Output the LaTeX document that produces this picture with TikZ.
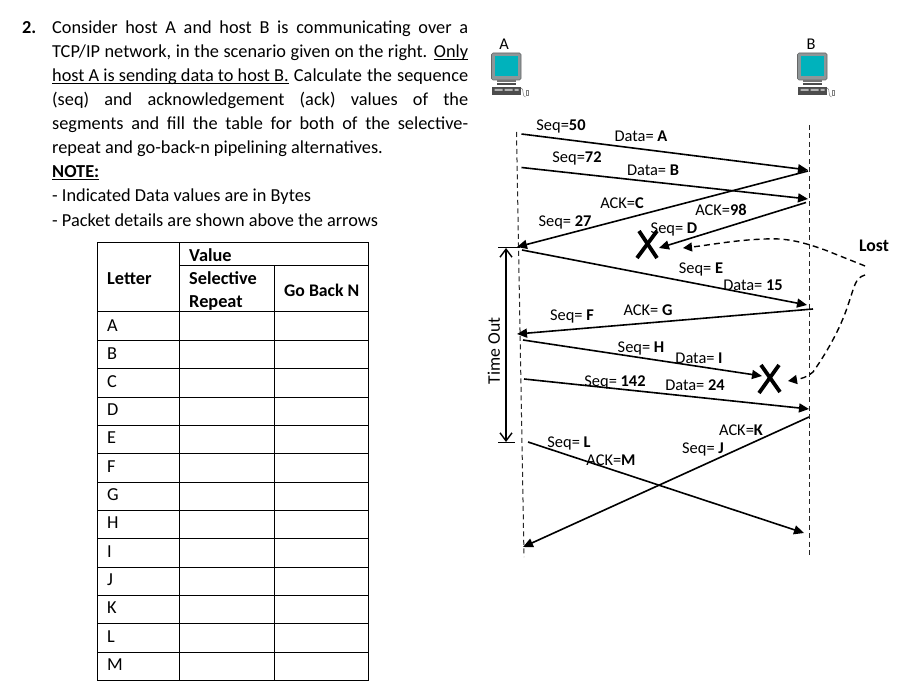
\documentclass[tikz,border=0pt]{standalone}
\usepackage{fontspec}
\setmainfont{Carlito}
\usetikzlibrary{arrows.meta}
\newcommand{\ulnk}[1]{\sbox0{#1}\rlap{\rule[-2.2pt]{\wd0}{1.1pt}}\usebox0}
\newcommand{\bodyfs}{\fontsize{18.3}{22}\selectfont}
\newcommand{\labfs}{\fontsize{16.4}{20}\selectfont}
\newcommand{\bigfs}{\fontsize{17.7}{21}\selectfont}
\definecolor{screen}{HTML}{00B2BC}
\definecolor{bezel}{HTML}{8E9698}
\tikzset{
  x=1pt,y=-1pt,
  body/.style={anchor=base west,inner sep=0pt,font=\bodyfs},
  tab/.style={anchor=base west,inner sep=0pt,font=\bodyfs},
  tabline/.style={draw=black,line width=1pt},
  lab/.style={inner sep=0pt,font=\labfs,text height=14pt,text depth=2.5pt},
  life/.style={draw=black!85,line width=1pt,dash pattern=on 5pt off 3.5pt},
  msg/.style={draw=black,line width=1.6pt,-{Triangle[length=10pt,width=9pt]}},
  lostline/.style={draw=black,line width=1.4pt,dash pattern=on 6pt off 4pt},
  lostarrow/.style={lostline,-{Triangle[length=9pt,width=9pt]}},
  cross/.style={draw=black,line width=3.8pt},
  timeline/.style={draw=black,line width=1.4pt,{Straight Barb[length=8pt,width=12pt]}-{Straight Barb[length=8pt,width=12pt]}},
  thin rule/.style={draw=black,line width=0.8pt},
  hostpc/.pic={
    \fill[bezel,rounded corners=1.5pt] (0,0) rectangle (29.5,27);
    \fill[screen] (3,3) rectangle (26.5,23);
    \draw[black!60,line width=.6pt,rounded corners=1.5pt] (0,0) rectangle (29.5,27);
    \fill[black!55] (5,27) rectangle (24.5,29);
    \fill[black!70] (5,30.5) rectangle (24.5,32);
    \fill[black!70] (0.5,34) rectangle (29.5,42);
    \fill[black!30] (3,36) rectangle (11,38) (13,36) rectangle (21,38) (23,36) rectangle (27,38);
    \draw[black!50,line width=.5pt] (29.5,35) .. controls (33,35) and (30,44) .. (34,44);
    \draw[black!50,line width=.5pt] (35,37) rectangle (37,42);
  }
}
\begin{document}
\begin{tikzpicture}
\useasboundingbox[fill=white] (0,0) rectangle (901,700);

% question text
\node[body,font=\bodyfs\bfseries] (num) at (22,34) {2.};
\node[body] (l1) at (52,34) {\makebox[416pt][s]{Consider host A and host B is communicating over a}};
\node[body] (l2) at (52,58) {\makebox[416pt][s]{TCP/IP network, in the scenario given on the right. \ulnk{Only}}};
\node[body] (l3) at (52,82) {\makebox[416pt][s]{\ulnk{host A is sending data to host B.} Calculate the sequence}};
\node[body] (l4) at (52,106) {\makebox[416pt][s]{(seq) and acknowledgement (ack) values of the}};
\node[body] (l5) at (52,130) {\makebox[416pt][s]{segments and fill the table for both of the selective-}};
\node[body] (l6) at (52,154) {repeat and go-back-n pipelining alternatives.};
\node[body] (l7) at (52,178) {\textbf{\ulnk{NOTE:}}};
\node[body] (l8) at (52,202) {- Indicated Data values are in Bytes};
\node[body] (l9) at (52,227) {- Packet details are shown above the arrows};

% table
\draw[tabline] (97.5,242.5) rectangle (368,680.5);
\draw[tabline] (179,242.5) -- (179,680.5);
\draw[tabline] (274,266) -- (274,680.5);
\draw[tabline] (179,266) -- (368,266);
\foreach \yy in {311.5,340,368,397,425,453,482,510,538,567,595,623,652}
  \draw[tabline] (97.5,\yy) -- (368,\yy);
\node[tab,font=\bodyfs\bfseries] (hLetter) at (107,284) {Letter};
\node[tab,font=\bodyfs\bfseries] (hValue) at (189,262) {Value};
\node[tab,font=\bodyfs\bfseries] (hSel) at (189,284) {Selective};
\node[tab,font=\bodyfs\bfseries] (hRep) at (189,307) {Repeat};
\node[tab,font=\bigfs\bfseries] (hGo) at (284,296) {Go Back N};
\foreach \rowname/\yy in {A/331,B/359,C/387,D/415,E/443,F/472,G/500,H/528,I/557,J/585,K/613,L/642,M/670}
  \node[tab] (row\rowname) at (107,\yy) {\rowname};

% hosts
\pic at (491.5,53) {hostpc};
\pic at (797.5,53) {hostpc};
\node[lab] (hostA) at (504,44) {A};
\node[lab] (hostB) at (811,44) {B};

% lifelines
\coordinate (Atop) at (516.5,132);
\coordinate (Abot) at (524,557);
\coordinate (Btop) at (809,125);
\coordinate (Bbot) at (809,557);
\draw[life] (Atop) -- (Abot);
\draw[life] (Btop) -- (Bbot);

% messages
\coordinate (m1s) at (521.5,134);   \coordinate (m1e) at (808,170);
\coordinate (m2s) at (521.5,167.5); \coordinate (m2e) at (808,199);
\coordinate (m3s) at (808,171);     \coordinate (m3e) at (517,247);
\coordinate (m4s) at (806,202.5);   \coordinate (m4e) at (659,248);
\coordinate (m5s) at (522,250);     \coordinate (m5e) at (807,305);
\coordinate (m6s) at (813,309);     \coordinate (m6e) at (517,334);
\coordinate (m7s) at (523,340);     \coordinate (m7e) at (762,376);
\coordinate (m8s) at (524,379);     \coordinate (m8e) at (809,409);
\coordinate (m9s) at (809,417);     \coordinate (m9e) at (523,547);
\coordinate (m10s) at (528,442);    \coordinate (m10e) at (804,533);
\foreach \i in {1,...,10} \draw[msg] (m\i s) -- (m\i e);

% lost crosses
\coordinate (x1a) at (637,258); \coordinate (x1b) at (657,231);
\coordinate (x1c) at (639,231); \coordinate (x1d) at (657,258);
\draw[cross] (x1a) -- (x1b);
\draw[cross] (x1c) -- (x1d);
\coordinate (x2a) at (759,393); \coordinate (x2b) at (779,365);
\coordinate (x2c) at (761,365); \coordinate (x2d) at (780,392);
\draw[cross] (x2a) -- (x2b);
\draw[cross] (x2c) -- (x2d);

% lost pointers
\node[lab,font=\bigfs\bfseries] (lost) at (874,246) {Lost};
\coordinate (c1s) at (865,266); \coordinate (c1e) at (683,248);
\coordinate (c2s) at (865,275); \coordinate (c2e) at (788,381);
\draw[lostarrow] (c1s) -- (825,250) .. controls (800,241) and (785,238) .. (765,239) .. controls (735,240) and (710,245) .. (c1e);
\draw[lostarrow] (c2s) .. controls (855,278) and (855,285) .. (848,305) .. controls (840,330) and (825,355) .. (813,372) .. controls (808,377) and (800,379) .. (c2e);

% time out
\coordinate (t1) at (506,248); \coordinate (t2) at (506,442);
\draw[timeline] (t1) -- (t2);
\coordinate (r1a) at (498,247); \coordinate (r1b) at (520,247);
\coordinate (r2a) at (498,442.5); \coordinate (r2b) at (515,442.5);
\draw[thin rule] (r1a) -- (r1b);
\draw[thin rule] (r2a) -- (r2b);
\node[lab,font=\bigfs,rotate=90] (timeout) at (494,351) {Time Out};

% labels
\node[lab] (n1) at (561,125) {Seq=\textbf{50}};
\node[lab] (n2) at (641,136) {Data= \textbf{A}};
\node[lab] (n3) at (577,157) {Seq=\textbf{72}};
\node[lab] (n4) at (653,170) {Data= \textbf{B}};
\node[lab] (n5) at (622,203) {ACK=\textbf{C}};
\node[lab] (n6) at (721,210) {ACK=\textbf{98}};
\node[lab] (n7) at (565,221) {Seq= \textbf{27}};
\node[lab] (n8) at (674,228) {Seq= \textbf{D}};
\node[lab] (n9) at (701,268) {Seq= \textbf{E}};
\node[lab] (n10) at (753,285) {Data= \textbf{15}};
\node[lab] (n11) at (572,315) {Seq= \textbf{F}};
\node[lab] (n12) at (648,310) {ACK= \textbf{G}};
\node[lab] (n13) at (641,347) {Seq= \textbf{H}};
\node[lab] (n14) at (699,358) {Data= \textbf{I}};
\node[lab] (n15) at (615,381) {Seq= \textbf{142}};
\node[lab] (n16) at (695,385) {Data= \textbf{24}};
\node[lab] (n17) at (741,430) {ACK=\textbf{K}};
\node[lab] (n18) at (703,448) {Seq= \textbf{J}};
\node[lab] (n19) at (569,442) {Seq= \textbf{L}};
\node[lab] (n20) at (611,460) {ACK=\textbf{M}};
\end{tikzpicture}
\end{document}
